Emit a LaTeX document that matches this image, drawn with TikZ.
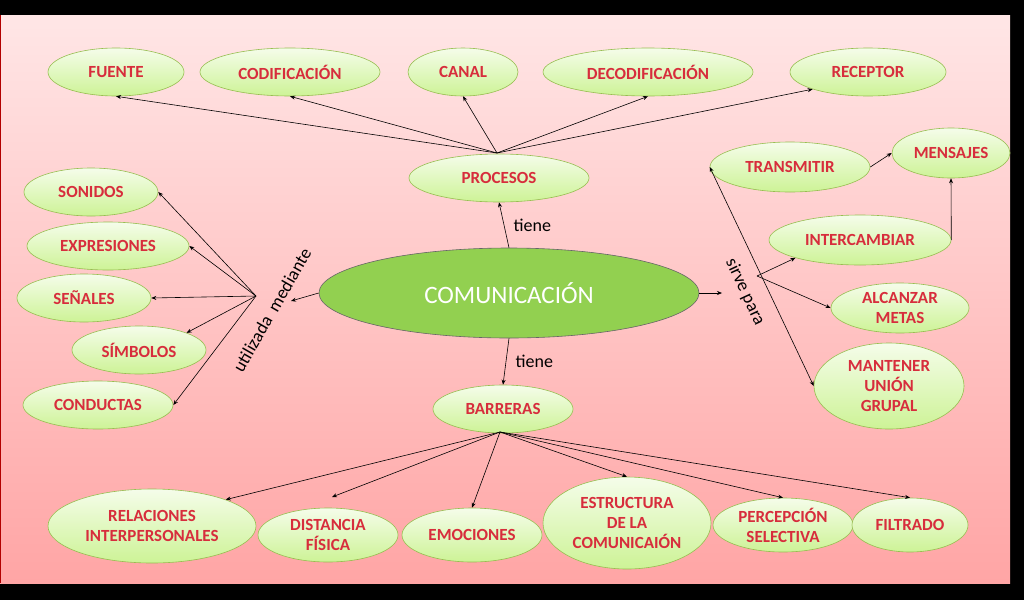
\documentclass[tikz,border=0pt]{standalone}
\usepackage{fontspec}
\setmainfont{Carlito}
\usetikzlibrary{shapes.geometric,arrows.meta,shadows}
\definecolor{txtred}{RGB}{215,45,60}
\definecolor{elborder}{RGB}{150,190,80}
\definecolor{elfill}{RGB}{205,243,150}
\definecolor{comfill}{RGB}{146,208,80}
\tikzset{
  bub/.style={ellipse,draw=elborder,line width=0.6pt,top color=white!80!elfill,bottom color=elfill,
    font=\fontsize{17}{20}\selectfont\bfseries,text=txtred,align=center,inner sep=0pt},
  arr/.style={-{Stealth[length=5pt,width=4pt]},line width=0.6pt},
  lab/.style={font=\fontsize{18}{20}\selectfont}
}
\begin{document}
\begin{tikzpicture}[x=1pt,y=-1pt]
\useasboundingbox (0,0) rectangle (1024,600);
\fill[black] (0,0) rectangle (1024,600);
\shade[top color={rgb,255:red,255;green,230;blue,230},bottom color={rgb,255:red,255;green,165;blue,165}] (0,15) rectangle (1010,583);
\draw[red!70!black,line width=0.6pt] (0.5,15) -- (0.5,583);
% top
\node[bub,minimum width=136,minimum height=48] (fuente) at (116,72) {FUENTE};
\node[bub,minimum width=180,minimum height=48] (codif) at (290,72) {CODIFICACIÓN};
\node[bub,minimum width=110,minimum height=48] (canal) at (463,72) {CANAL};
\node[bub,minimum width=210,minimum height=48] (decod) at (648,72) {DECODIFICACIÓN};
\node[bub,minimum width=156,minimum height=48] (recep) at (868,72) {RECEPTOR};
\node[bub,minimum width=180,minimum height=48] (proc) at (499,178) {PROCESOS};
% right
\node[bub,minimum width=160,minimum height=50] (trans) at (790,167) {TRANSMITIR};
\node[bub,minimum width=118,minimum height=50] (mens) at (951,153) {MENSAJES};
\node[bub,minimum width=182,minimum height=50] (inter) at (860,240) {INTERCAMBIAR};
\node[bub,minimum width=138,minimum height=50] (alc) at (900,308) {ALCANZAR\\METAS};
\node[bub,minimum width=150,minimum height=86] (mant) at (889,386) {MANTENER\\UNIÓN\\GRUPAL};
% left
\node[bub,minimum width=134,minimum height=48] (son) at (91,192) {SONIDOS};
\node[bub,minimum width=162,minimum height=48] (expr) at (108,246) {EXPRESIONES};
\node[bub,minimum width=134,minimum height=48] (sen) at (84,298) {SEÑALES};
\node[bub,minimum width=134,minimum height=48] (simb) at (139,350) {SÍMBOLOS};
\node[bub,minimum width=150,minimum height=48] (cond) at (98,405) {CONDUCTAS};
% center
\node[ellipse,draw=black!60,line width=0.6pt,fill=comfill,minimum width=380,minimum height=90,
  font=\fontsize{25}{27}\selectfont,text=white] (com) at (509,293) {COMUNICACIÓN};
\node[bub,minimum width=140,minimum height=48] (barr) at (503,409) {BARRERAS};
% bottom
\node[bub,minimum width=208,minimum height=74] (rel) at (152,526) {RELACIONES\\INTERPERSONALES};
\node[bub,minimum width=140,minimum height=54] (dist) at (328,535) {DISTANCIA\\FÍSICA};
\node[bub,minimum width=140,minimum height=54] (emo) at (472,535) {EMOCIONES};
\node[bub,minimum width=168,minimum height=92] (estr) at (627,523) {ESTRUCTURA\\DE LA\\COMUNICAIÓN};
\node[bub,minimum width=140,minimum height=54] (perc) at (783,525) {PERCEPCIÓN\\SELECTIVA};
\node[bub,minimum width=116,minimum height=54] (filt) at (910,525) {FILTRADO};
% coordinates
\coordinate (ph) at (497,153);
\coordinate (lh) at (256,296);
\coordinate (la) at (291,301);
\coordinate (bh) at (500,432);
\coordinate (rh) at (757,276);
\coordinate (ra) at (722,293);
\coordinate (dend) at (332,497);
% process arrows
\draw[arr] (ph) -- (fuente.south);
\draw[arr] (ph) -- (codif.south);
\draw[arr] (ph) -- (canal.south);
\draw[arr] (ph) -- (decod.south);
\draw[arr] (ph) -- (recep.south west);
\draw[arr] (com.north) -- (proc.south) node[lab,midway,right=6pt] {tiene};
\draw[arr] (com.south) -- (barr.north) node[lab,midway,right=6pt] {tiene};
% left
\draw[arr] (com.west) -- (la);
\draw[arr] (lh) -- (son.east);
\draw[arr] (lh) -- (expr.east);
\draw[arr] (lh) -- (sen.east);
\draw[arr] (lh) -- (simb.north east);
\draw[arr] (lh) -- (cond.east);
\node[lab,rotate=60] (lbl1) at (272,310) {utilizada\ \ mediante};
% bottom
\draw[arr] (bh) -- (rel.north east);
\draw[arr] (bh) -- (dend);
\draw[arr] (bh) -- (emo.north);
\draw[arr] (bh) -- (estr.north);
\draw[arr] (bh) -- (perc.north);
\draw[arr] (bh) -- (filt.north);
% right
\draw[arr] (com.east) -- (ra);
\draw[arr] (rh) -- (inter.south west);
\draw[arr] (rh) -- (alc.west);
\draw[{Stealth[length=5pt,width=4pt]}-{Stealth[length=5pt,width=4pt]},line width=0.6pt] (trans.west) -- (mant.west);
\draw[arr] (trans.east) -- (mens.west);
\draw[arr] (inter.east) -- (mens.south);
\node[lab,rotate=-65] (lbl2) at (745,292) {sirve para};
\end{tikzpicture}
\end{document}
